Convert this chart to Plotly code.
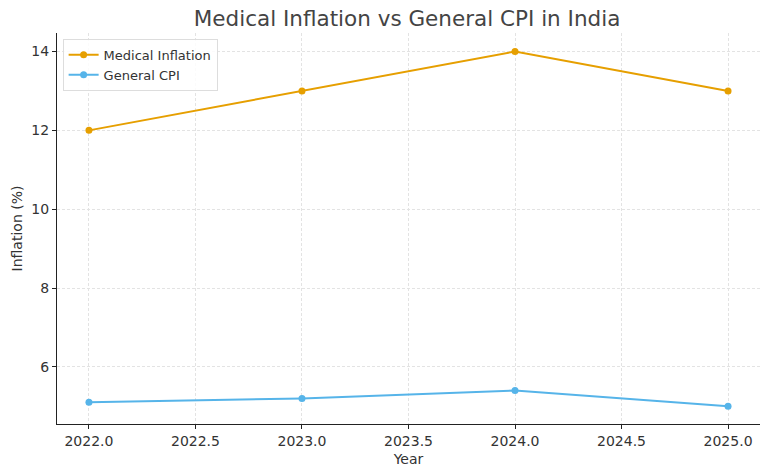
import plotly.graph_objects as go

years = [2022, 2023, 2024, 2025]
medical_inflation = [12, 13, 14, 13]
general_cpi = [5.1, 5.2, 5.4, 5.0]

x_ticks = [2022.0, 2022.5, 2023.0, 2023.5, 2024.0, 2024.5, 2025.0]
x_tick_labels = ["2022.0", "2022.5", "2023.0", "2023.5", "2024.0", "2024.5", "2025.0"]
y_ticks = [6, 8, 10, 12, 14]

font_family = "DejaVu Sans"

fig = go.Figure()
fig.add_trace(go.Scatter(
    x=years, y=medical_inflation, mode="lines+markers", name="Medical Inflation",
    line=dict(color="#E69F00", width=2), marker=dict(size=7, color="#E69F00")))
fig.add_trace(go.Scatter(
    x=years, y=general_cpi, mode="lines+markers", name="General CPI",
    line=dict(color="#56B4E9", width=2), marker=dict(size=7, color="#56B4E9")))

axis_common = dict(
    showline=True, linecolor="#222", linewidth=1.2, mirror=False,
    ticks="outside", ticklen=4, tickcolor="#222",
    showgrid=True, gridcolor="#e3e3e3", griddash="3px,2px", gridwidth=0.8,
    zeroline=False, tickfont=dict(size=14, color="#333", family=font_family),
)

fig.update_layout(
    width=768, height=475,
    margin=dict(l=57, r=8, t=33, b=51),
    paper_bgcolor="white", plot_bgcolor="white",
    font=dict(family=font_family, color="#333"),
    title=dict(text="Medical Inflation vs General CPI in India", x=0.53, xanchor="center",
               y=0.962, yanchor="middle", font=dict(size=21.5, color="#444", family=font_family)),
    xaxis=dict(axis_common, range=[2021.85, 2025.15], tickvals=x_ticks, ticktext=x_tick_labels,
               title=dict(text="Year", font=dict(size=14, color="#333"), standoff=6)),
    yaxis=dict(axis_common, range=[4.55, 14.47], tickvals=y_ticks,
               title=dict(text="Inflation (%)", font=dict(size=14, color="#333"), standoff=5)),
    legend=dict(x=0.008, y=0.985, xanchor="left", yanchor="top",
                bgcolor="rgba(255,255,255,0.85)", bordercolor="#dddddd", borderwidth=1,
                font=dict(size=13, color="#333", family=font_family)),
    showlegend=True,
)

fig.write_html("out.html")
